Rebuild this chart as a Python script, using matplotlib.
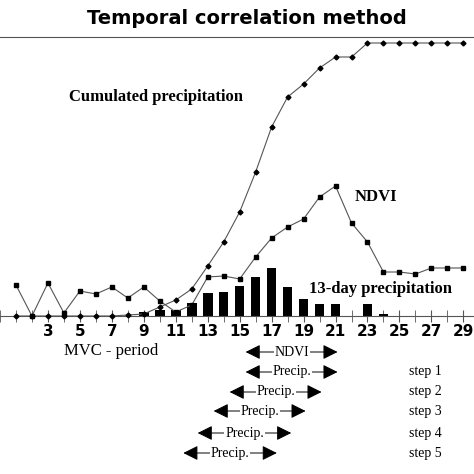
import matplotlib.pyplot as plt

days = list(range(1, 30))
# cumulated precipitation (chart units, baseline = 0)
cumul = [0, 0, 0, 0, 0, 0, 0, 1, 2, 9, 16, 27, 50, 74, 104, 144, 189, 219, 232, 248, 259, 259, 273, 273, 273, 273, 273, 273, 273]
ndvi = [31, 0, 33, 3, 25, 22, 29, 18, 29, 15, 4, 11, 39, 40, 37, 59, 78, 89, 97, 119, 130, 93, 74, 44, 44, 42, 48, 48, 48]
precip13 = [0, 0, 0, 0, 0, 0, 0, 0, 3.6, 5.7, 6.3, 13, 23, 24, 30, 39, 48, 29, 17, 11.7, 11.7, 0, 12.3, 2, 0, 0, 0, 0, 0]

window_labels = ["NDVI", "Precip.", "Precip.", "Precip.", "Precip.", "Precip."]
window_start = [15.2, 15.2, 14.2, 13.2, 12.2, 11.3]
window_end = [21.3, 21.3, 20.3, 19.3, 18.4, 17.5]
steps = ["", "step 1", "step 2", "step 3", "step 4", "step 5"]

fig = plt.figure(figsize=(4.74, 4.74), dpi=100)
ax = fig.add_axes([0, 0, 1, 1])
x0 = 3 - 30 / 16.65
ax.set_xlim(x0, x0 + 474 / 16.65)
ax.set_ylim(-158, 316)

ax.bar(days, precip13, width=0.6, color="black", zorder=2)
ax.plot(days, cumul, "-", color="#555555", lw=0.8, marker="D", ms=2.5, mfc="black", mec="black", zorder=3)
ax.plot(days, ndvi, "-", color="#555555", lw=0.8, marker="s", ms=3.5, mfc="black", mec="black", zorder=3)

for s in ["left", "right", "top"]:
    ax.spines[s].set_visible(False)
ax.spines["bottom"].set_position(("data", 0))
ax.spines["bottom"].set_color("#555555")
ax.axhline(279, color="#555555", lw=0.8)
ax.set_yticks([])
ax.set_xticks(range(3, 30, 2))
ax.set_xticks(range(0, 30), minor=True)
ax.tick_params(axis="x", which="both", direction="inout", length=8, color="#555555", pad=2)
for lab in ax.get_xticklabels():
    lab.set_fontweight("bold")
    lab.set_fontsize(11)

ax.text(x0 + 237 / 16.65, 298, "Temporal correlation method", ha="center", va="center",
        fontsize=14, fontweight="bold")
serif = "Liberation Serif"
ax.text(x0 + 52 / 16.65, 219, "Cumulated precipitation", family=serif, fontweight="bold", fontsize=12, va="center")
ax.text(x0 + 350 / 16.65, 119, "NDVI", family=serif, fontweight="bold", fontsize=12, va="center")
ax.text(x0 + 302 / 16.65, 27, "13-day precipitation", family=serif, fontweight="bold", fontsize=12, va="center")
ax.text(x0 + 47 / 16.65, -35, "MVC - period", family=serif, fontsize=12, va="center")

row_y = [-36, -56, -76, -95, -117, -137]
for lab, a, b, st, y in zip(window_labels, window_start, window_end, steps, row_y):
    ax.annotate("", xy=(a, y), xytext=(b, y),
                arrowprops=dict(arrowstyle="<|-|>,head_length=0.9,head_width=0.45", color="black", lw=0.7))
    ax.text((a + b) / 2, y, lab, ha="center", va="center", family=serif, fontsize=10,
            bbox=dict(facecolor="white", edgecolor="none", pad=0.5))
    if st:
        ax.text(x0 + 406 / 16.65, y, st, family=serif, fontsize=10, va="center")

fig.savefig("out.png")
